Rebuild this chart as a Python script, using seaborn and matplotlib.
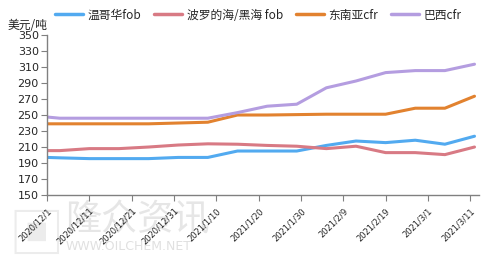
import pandas as pd
import numpy as np
import matplotlib
matplotlib.use("Agg")
import matplotlib.pyplot as plt
import seaborn as sns

dates = ["2020-12-01", "2020-12-04", "2020-12-11", "2020-12-18", "2020-12-25",
         "2021-01-01", "2021-01-08", "2021-01-15", "2021-01-22", "2021-01-29",
         "2021-02-05", "2021-02-12", "2021-02-19", "2021-02-26", "2021-03-05",
         "2021-03-12"]
vancouver = [197, 196.5, 195.5, 195.5, 195.5, 197, 197, 205, 205, 205, 212, 217.5, 215.5, 218.5, 213.5, 223.5]
baltic = [205.5, 205.5, 208, 208, 210, 212.5, 214, 213.5, 212, 211, 208, 211, 203, 203, 200.5, 210]
sea = [239, 239, 239, 239, 239, 240, 241, 250, 250, 250.5, 251, 251, 251, 258.5, 258.5, 273.5]
brazil = [247.5, 246, 246, 246, 246, 246, 246, 253, 261, 263.5, 284, 292.5, 303, 305.5, 305.5, 313.5]

series_names = ["温哥华fob", "波罗的海/黑海 fob", "东南亚cfr", "巴西cfr"]
colors = ["#52AAF0", "#D87A84", "#E2822F", "#B49DE0"]

df = pd.DataFrame({"date": pd.to_datetime(dates)})
df[series_names[0]] = vancouver
df[series_names[1]] = baltic
df[series_names[2]] = sea
df[series_names[3]] = brazil
long_df = df.melt(id_vars="date", var_name="series", value_name="price")

sns.set_style("white")
plt.rcParams["font.family"] = ["Noto Sans CJK SC", "DejaVu Sans"]

fig = plt.figure(figsize=(4.95, 2.65), dpi=100)
ax = fig.add_axes([0.095, 0.264, 0.873, 0.604])

# watermark, behind everything
fig.text(0.018, 0.045, "▣", fontsize=40, color="#ececec", zorder=-1)
fig.text(0.132, 0.13, "隆众资讯", fontsize=26, color="#e6e6e6", zorder=-1)
fig.text(0.132, 0.055, "WWW.OILCHEM.NET", fontsize=9, color="#e0e0e0", zorder=-1,
         family=["DejaVu Sans"])

sns.lineplot(data=long_df, x="date", y="price", hue="series", hue_order=series_names,
             palette=colors, linewidth=2.2, ax=ax, legend=False)

start = pd.Timestamp("2020-12-01")
ax.set_xlim(start, start + pd.Timedelta(days=102.1))
ax.set_ylim(150, 350)
ax.set_yticks(np.arange(150, 351, 20))
ax.tick_params(axis="y", labelsize=8, length=4, color="#808080", pad=2)

ticks = pd.date_range(start, periods=11, freq="10D")
ax.set_xticks(ticks)
ax.set_xticklabels([f"{d.year}/{d.month}/{d.day}" for d in ticks], rotation=45,
                   ha="right", rotation_mode="anchor", fontsize=6, family=["DejaVu Sans"])
ax.tick_params(axis="x", length=4, color="#808080", pad=4)
ax.tick_params(left=True, bottom=True)
for lbl in ax.get_yticklabels():
    lbl.set_family(["DejaVu Sans"])

for s in ["top", "right"]:
    ax.spines[s].set_visible(False)
for s in ["left", "bottom"]:
    ax.spines[s].set_color("#808080")
    ax.spines[s].set_linewidth(1)
ax.set_xlabel("")
ax.set_ylabel("")
ax.patch.set_alpha(0)

fig.text(0.016, 0.905, "美元/吨", fontsize=8.5, color="#222222", va="center")

# legend
handles = [plt.Line2D([], [], color=c, linewidth=2.5) for c in colors]
fig.legend(handles, series_names, loc="center left", bbox_to_anchor=(0.111, 0.943), ncol=4,
           frameon=False, fontsize=8.5, handlelength=2.4, handletextpad=0.35,
           columnspacing=1.1, borderaxespad=0, borderpad=0)

fig.savefig("out.png", dpi=100)
